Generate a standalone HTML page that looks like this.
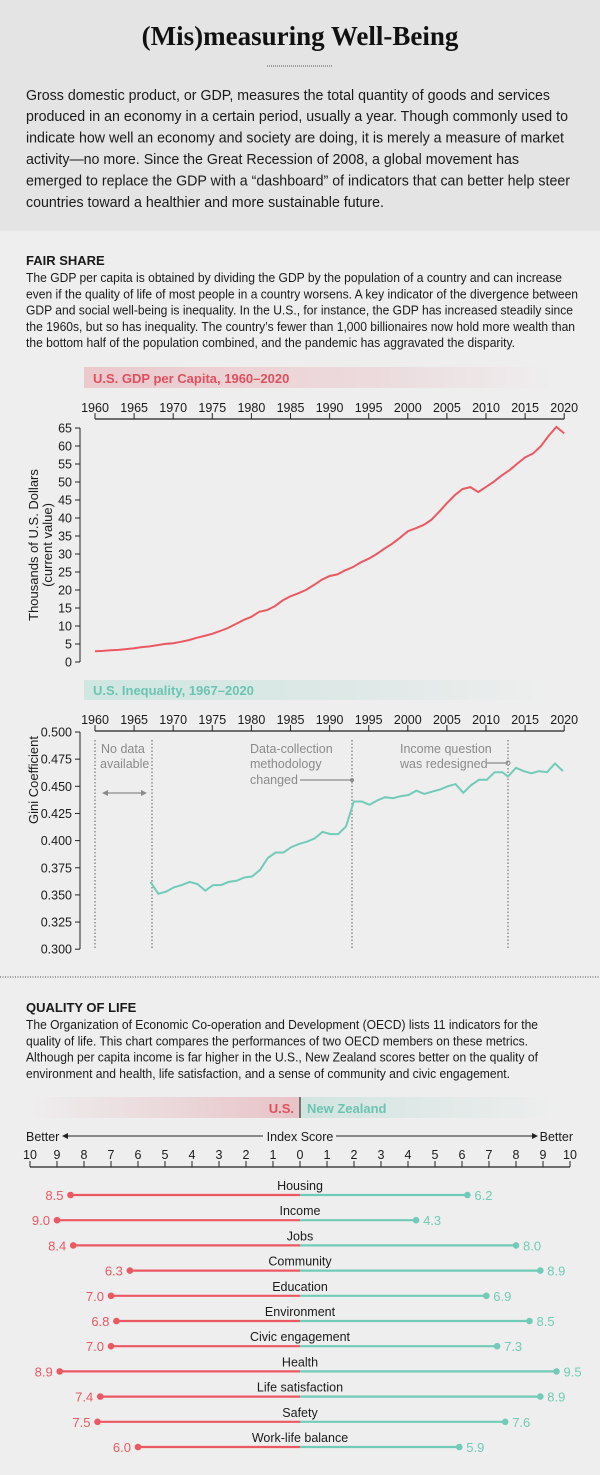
<!DOCTYPE html>
<html><head><meta charset="utf-8"><style>
html,body{margin:0;padding:0;background:#eeeeee;}
svg{display:block;font-family:"Liberation Sans",sans-serif;}
</style></head><body>
<svg id="s" width="600" height="1475" viewBox="0 0 600 1475" xmlns="http://www.w3.org/2000/svg">
<defs>
<linearGradient id="gr" x1="0" x2="1"><stop offset="0" stop-color="#ebc9cd"/><stop offset="0.6" stop-color="#ecdadc"/><stop offset="1" stop-color="#eeeeee"/></linearGradient>
<linearGradient id="gt" x1="0" x2="1"><stop offset="0" stop-color="#cfe6e1"/><stop offset="0.6" stop-color="#dfe9e7"/><stop offset="1" stop-color="#eeeeee"/></linearGradient>
<linearGradient id="qr" x1="0" x2="1"><stop offset="0" stop-color="#eeeeee"/><stop offset="1" stop-color="#e8c3c7"/></linearGradient>
<linearGradient id="qt" x1="0" x2="1"><stop offset="0" stop-color="#d2e4e0"/><stop offset="1" stop-color="#eeeeee"/></linearGradient>
</defs>
<rect x="0" y="0" width="600" height="231" fill="#e4e4e4"/>
<text x="300" y="45" text-anchor="middle" font-family="Liberation Serif,serif" font-weight="bold" font-size="27" fill="#111">(Mis)measuring Well-Being</text>
<line x1="267" y1="66" x2="333" y2="66" stroke="#555" stroke-width="1" stroke-dasharray="1,1"/>
<g font-size="15" fill="#1a1a1a" lengthAdjust="spacingAndGlyphs">
<text x="26" y="100" textLength="524" lengthAdjust="spacingAndGlyphs">Gross domestic product, or GDP, measures the total quantity of goods and services</text>
<text x="26" y="121" textLength="542" lengthAdjust="spacingAndGlyphs">produced in an economy in a certain period, usually a year. Though commonly used to</text>
<text x="26" y="142.5" textLength="538" lengthAdjust="spacingAndGlyphs">indicate how well an economy and society are doing, it is merely a measure of market</text>
<text x="26" y="164" textLength="493" lengthAdjust="spacingAndGlyphs">activity—no more. Since the Great Recession of 2008, a global movement has</text>
<text x="26" y="185.5" textLength="544" lengthAdjust="spacingAndGlyphs">emerged to replace the GDP with a “dashboard” of indicators that can better help steer</text>
<text x="26" y="207" textLength="358" lengthAdjust="spacingAndGlyphs">countries toward a healthier and more sustainable future.</text>
</g>
<g id="main"></g>
</svg>
<script>
var S=document.getElementById('main'),h='';
function t(x,y,s,o){o=o||{};h+='<text x="'+x+'" y="'+y+'" font-size="'+(o.fs||13)+'" fill="'+(o.c||'#1a1a1a')+'"'+(o.a?' text-anchor="'+o.a+'"':'')+(o.w?' font-weight="bold"':'')+(o.tr?' transform="'+o.tr+'"':'')+'>'+s+'</text>';}
function l(x1,y1,x2,y2,c,w,d){h+='<line x1="'+x1+'" y1="'+y1+'" x2="'+x2+'" y2="'+y2+'" stroke="'+(c||'#222')+'" stroke-width="'+(w||1)+'"'+(d?' stroke-dasharray="'+d+'"':'')+'/>';}
t(26,265,'FAIR SHARE',{w:1});
var fs=['The GDP per capita is obtained by dividing the GDP by the population of a country and can increase','even if the quality of life of most people in a country worsens. A key indicator of the divergence between','GDP and social well-being is inequality. In the U.S., for instance, the GDP has increased steadily since','the 1960s, but so has inequality. The country’s fewer than 1,000 billionaires now hold more wealth than','the bottom half of the population combined, and the pandemic has aggravated the disparity.'];
var fl=[536,552,547,549,489];
fs.forEach(function(s,i){h+='<text x="26" y="'+(282+i*16.3)+'" font-size="12.6" fill="#1a1a1a" textLength="'+fl[i]+'" lengthAdjust="spacingAndGlyphs">'+s+'</text>';});
function X(y){return 95+(y-1960)*7.82;}
h+='<rect x="84" y="367" width="470" height="21" fill="url(#gr)"/>';
t(93,383,'U.S. GDP per Capita, 1960–2020',{w:1,c:'#e0505c'});
function xaxis(ya,yl){l(X(1960),ya,X(2020),ya,'#222',1.2);for(var y=1960;y<=2020;y+=5){l(X(y),ya,X(y),ya-6,'#222',1);t(X(y),yl,y,{a:'middle',fs:12.5});}}
xaxis(419,412);
l(80,428,80,662,'#222',1);
for(var v=0;v<=65;v+=5){var yy=662-v*3.6;l(75,yy,80,yy);t(72,yy+4.5,v,{a:'end',fs:12.5});}
t(0,0,'Thousands of U.S. Dollars',{a:'middle',fs:13,tr:'translate(38,545) rotate(-90)'});
t(0,0,'(current value)',{a:'middle',fs:13,tr:'translate(52,545) rotate(-90)'});
var g=[3.0,3.07,3.24,3.37,3.57,3.83,4.15,4.33,4.7,5.03,5.23,5.6,6.09,6.73,7.24,7.82,8.6,9.45,10.56,11.67,12.55,13.95,14.43,15.54,17.12,18.24,19.07,20.04,21.42,22.86,23.89,24.34,25.47,26.39,27.69,28.69,29.97,31.46,32.85,34.51,36.33,37.13,38.02,39.49,41.72,44.12,46.3,48.05,48.57,47.19,48.65,50.07,51.78,53.29,55.12,56.84,57.9,59.93,62.8,65.3,63.5];
var p=g.map(function(v,i){return X(1960+i).toFixed(1)+','+(662-v*3.6).toFixed(1);}).join(' ');
h+='<polyline points="'+p+'" fill="none" stroke="#ec5862" stroke-width="2"/>';
h+='<rect x="84" y="680" width="466" height="20" fill="url(#gt)"/>';
t(93,695,'U.S. Inequality, 1967–2020',{w:1,c:'#6cc4b2'});
xaxis(731,724);
l(80,732,80,949);
for(var k=0;k<=8;k++){var yy=732+k*27.15;l(75,yy,80,yy);t(72,yy+4.5,(0.5-k*0.025).toFixed(3),{a:'end',fs:12.5});}
t(0,0,'Gini Coefficient',{a:'middle',fs:13,tr:'translate(38,780) rotate(-90)'});
function G(v){return 732+(0.5-v)*1086;}
[95,152,352,508].forEach(function(x){l(x,740,x,949,'#777',1.2,'1.5,2');});
var gc='#8a8a8a';
t(101,753,'No data',{fs:12.5,c:gc});t(100,768,'available',{fs:12.5,c:gc});
l(104,793,145,793,gc,1.2);h+='<path d="M102,793 l6,-3 v6z M147,793 l-6,-3 v6z" fill="'+gc+'"/>';
t(250,753,'Data-collection',{fs:12.5,c:gc});t(250,768,'methodology',{fs:12.5,c:gc});t(250,784,'changed',{fs:12.5,c:gc});
l(300,780,352,780,gc,1.2);h+='<circle cx="352" cy="780" r="2" fill="'+gc+'"/>';
t(400,753,'Income question',{fs:12.5,c:gc});t(400,768,'was redesigned',{fs:12.5,c:gc});
l(487,763,508,763,gc,1.2);h+='<circle cx="508" cy="763" r="2" fill="none" stroke="'+gc+'"/>';
var gi=[.362,.351,.353,.357,.359,.362,.360,.354,.359,.359,.362,.363,.366,.367,.373,.384,.389,.389,.394,.397,.399,.402,.408,.406,.406,.413,.436,.436,.433,.437,.440,.439,.441,.442,.446,.443,.445,.447,.450,.452,.444,.451,.456,.456,.463,.463];
var pts=gi.map(function(v,i){return X(1967.1+i).toFixed(1)+','+G(v).toFixed(1);});
[[508,.459],[516,.467],[523.5,.464],[531.5,.462],[539,.464],[547,.463],[555,.471],[563,.464]].forEach(function(a){pts.push(a[0]+','+G(a[1]).toFixed(1));});
h+='<polyline points="'+pts.join(' ')+'" fill="none" stroke="#72cbb8" stroke-width="2"/>';
l(0,977,600,977,'#444',1,'1,1.5');
t(26,1012,'QUALITY OF LIFE',{w:1});
var q=['The Organization of Economic Co-operation and Development (OECD) lists 11 indicators for the','quality of life. This chart compares the performances of two OECD members on these metrics.','Although per capita income is far higher in the U.S., New Zealand scores better on the quality of','environment and health, life satisfaction, and a sense of community and civic engagement.'];
var ql=[512,502,512,484];
q.forEach(function(s,i){h+='<text x="26" y="'+(1029+i*16.3)+'" font-size="12.6" fill="#1a1a1a" textLength="'+ql[i]+'" lengthAdjust="spacingAndGlyphs">'+s+'</text>';});
h+='<rect x="30" y="1097" width="270" height="21" fill="url(#qr)"/><rect x="300" y="1097" width="260" height="21" fill="url(#qt)"/>';
l(300,1097,300,1118,'#333',1.2);
t(294,1113,'U.S.',{a:'end',w:1,c:'#e0505c'});t(307,1113,'New Zealand',{w:1,c:'#6cc4b2'});
t(26,1141,'Better',{fs:12.5});t(573,1141,'Better',{fs:12.5,a:'end'});t(300,1141,'Index Score',{fs:12.5,a:'middle'});
l(64,1136,263,1136,'#222',1);l(336,1136,534,1136,'#222',1);
h+='<path d="M62,1136 l6,-3 v6z M538,1136 l-6,-3 v6z" fill="#222"/>';
l(30,1167,570,1167,'#222',1.2);
for(var i=-10;i<=10;i++){var x=300+i*27;l(x,1167,x,1161);t(x,1159,Math.abs(i),{a:'middle',fs:12.5});}
var rows=[['Housing',8.5,6.2],['Income',9.0,4.3],['Jobs',8.4,8.0],['Community',6.3,8.9],['Education',7.0,6.9],['Environment',6.8,8.5],['Civic engagement',7.0,7.3],['Health',8.9,9.5],['Life satisfaction',7.4,8.9],['Safety',7.5,7.6],['Work-life balance',6.0,5.9]];
rows.forEach(function(r,i){var y=1195+i*25.2;var xr=300-r[1]*27,xt=300+r[2]*27;
t(300,y-5,r[0],{a:'middle',fs:12.5});
l(xr,y,300,y,'#ec5862',2.2);l(300,y,xt,y,'#72cbb8',2.2);
h+='<circle cx="'+xr+'" cy="'+y+'" r="3.3" fill="#ec5862"/><circle cx="'+xt+'" cy="'+y+'" r="3.3" fill="#72cbb8"/>';
t(xr-7,y+5,r[1].toFixed(1),{a:'end',fs:13,c:'#ec5862'});t(xt+7,y+5,r[2].toFixed(1),{fs:13,c:'#72cbb8'});});
S.innerHTML=h;
</script>
</body></html>
